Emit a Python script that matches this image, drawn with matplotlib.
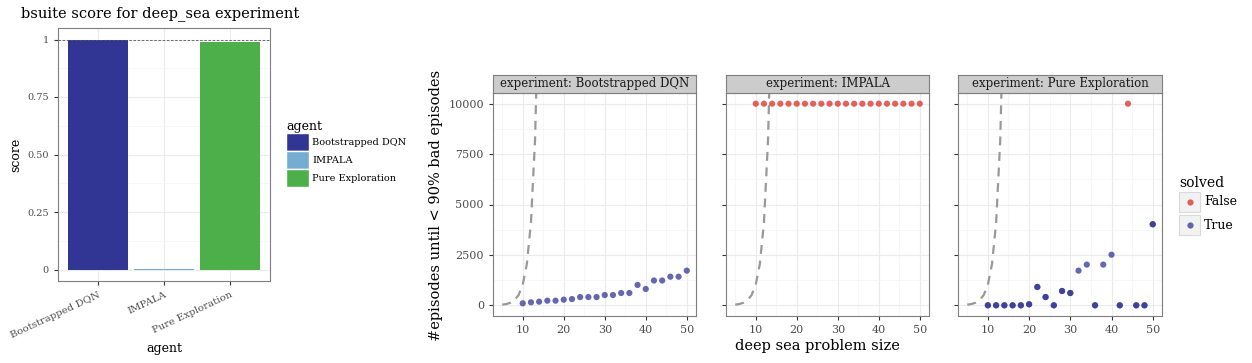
import numpy as np
import matplotlib.pyplot as plt
from matplotlib.patches import Patch, Rectangle
from matplotlib.lines import Line2D
from matplotlib.ticker import MultipleLocator

plt.rcParams["font.family"] = "DejaVu Serif"

# bar chart data
agents = ["Bootstrapped DQN", "IMPALA", "Pure Exploration"]
scores = [1.0, 0.003, 0.988]
agent_colors = ["#313695", "#74add1", "#4daf4a"]

# episodes until solved, per problem size
sizes = list(range(10, 51, 2))
dqn_episodes = [100, 150, 180, 230, 230, 280, 310, 410, 410, 410, 510,
                510, 610, 610, 1010, 810, 1230, 1230, 1420, 1420, 1720]
dqn_solved = [True] * 21
impala_episodes = [10000] * 21
impala_solved = [False] * 21
pe_episodes = [0, 0, 0, 0, 0, 50, 910, 410, 0, 710, 610,
               1720, 2020, 0, 2020, 2510, 0, 10000, 0, 0, 4020]
pe_solved = [True] * 17 + [False] + [True] * 3
# points that appear twice (overplotted, look darker)
pe_repeats = [2, 2, 2, 2, 2, 2, 2, 2, 2, 2, 2,
              1, 1, 2, 1, 1, 2, 1, 2, 2, 2]

# random-exploration reference curve
ref_sizes = [5, 6, 7, 8, 9, 10, 11, 12, 13, 14]
ref_episodes = [32, 64, 128, 256, 512, 1024, 2048, 4096, 8192, 16384]

solved_labels = ["False", "True"]

W, H = 1252, 363
fig = plt.figure(figsize=(W / 100, H / 100), dpi=100)


def px(x0, y0, x1, y1):
    return [x0 / W, 1 - y1 / H, (x1 - x0) / W, (y1 - y0) / H]


def style_axes(ax):
    ax.set_facecolor("white")
    for s in ax.spines.values():
        s.set_color("#7f7f7f")
        s.set_linewidth(0.8)
    ax.grid(True, which="major", color="#ebebeb", linewidth=0.8)
    ax.grid(True, which="minor", color="#f4f4f4", linewidth=0.5)
    ax.set_axisbelow(True)
    ax.tick_params(which="major", length=3, color="#333333", colors="#4d4d4d")
    ax.tick_params(which="minor", length=0)


# ---- left: bar chart
ax = fig.add_axes(px(58, 28, 270, 281))
style_axes(ax)
xpos = np.arange(1, 4)
ax.bar(xpos, scores, width=0.9, color=agent_colors, zorder=2)
ax.axhline(1.0, color="#555555", linestyle=(0, (3, 2)), linewidth=0.6, zorder=3)
ax.set_xlim(0.4, 3.6)
ax.set_ylim(-0.05, 1.05)
ax.set_yticks([0, 0.25, 0.5, 0.75, 1])
ax.set_yticklabels(["0", "0.25", "0.50", "0.75", "1"], fontsize=7)
ax.yaxis.set_minor_locator(MultipleLocator(0.125))
ax.set_xticks(xpos)
ax.set_xticklabels(agents, rotation=25, ha="right", fontsize=7.3,
                   rotation_mode="anchor")
ax.grid(False, axis="x", which="minor")
ax.set_xlabel("agent", fontsize=9, labelpad=2)
ax.set_ylabel("score", fontsize=9)
ax.set_title("bsuite score for deep_sea experiment", fontsize=10.5,
             loc="left", x=-0.175, pad=8)

handles = [Patch(facecolor=c, edgecolor="white", linewidth=1)
           for c in agent_colors]
leg = fig.legend(handles, agents, title="agent", loc="upper left",
                 bbox_to_anchor=(282 / W, 1 - 116 / H), frameon=False,
                 fontsize=7, title_fontsize=9, handlelength=2.4,
                 handleheight=2.4, handletextpad=0.3, labelspacing=0.05,
                 borderaxespad=0)
leg._legend_box.align = "left"

# ---- right: facets
panels = [
    ("Bootstrapped DQN", dqn_episodes, dqn_solved, [1] * 21, 493, 696),
    ("IMPALA", impala_episodes, impala_solved, [1] * 21, 726, 929),
    ("Pure Exploration", pe_episodes, pe_solved, pe_repeats, 958, 1162),
]
red, blue = "#d73027", "#313695"
for i, (name, eps, solved, reps, x0, x1) in enumerate(panels):
    ax = fig.add_axes(px(x0, 93, x1, 316))
    style_axes(ax)
    ax.plot(ref_sizes, ref_episodes, color="#999999", linestyle=(0, (4, 3)),
            linewidth=1.6, zorder=2)
    for x, y, s, r in zip(sizes, eps, solved, reps):
        for _ in range(r):
            ax.scatter(x, y, s=20, color=blue if s else red, alpha=0.75,
                       edgecolors="none", zorder=3)
    ax.set_xlim(2.75, 52.25)
    ax.set_ylim(-530, 10530)
    ax.set_xticks([10, 20, 30, 40, 50])
    ax.xaxis.set_minor_locator(MultipleLocator(5))
    ax.set_yticks([0, 2500, 5000, 7500, 10000])
    ax.yaxis.set_minor_locator(MultipleLocator(1250))
    ax.tick_params(labelsize=8)
    if i > 0:
        ax.set_yticklabels([])
    # strip
    sax = fig.add_axes(px(x0, 75, x1, 93))
    sax.set_facecolor("#cccccc")
    sax.set_xticks([])
    sax.set_yticks([])
    for s in sax.spines.values():
        s.set_color("#7f7f7f")
        s.set_linewidth(0.8)
    sax.text(0.5, 0.5, "experiment: " + name, ha="center", va="center",
             fontsize=8.5, color="#1a1a1a", transform=sax.transAxes)

fig.text(436 / W, 1 - 205 / H, "#episodes until < 90% bad episodes",
         rotation=90, ha="center", va="center", fontsize=10.5)
fig.text(817 / W, 1 - 346 / H, "deep sea problem size", ha="center",
         va="center", fontsize=10.5)

# solved legend with grey key boxes
fig.text(1179 / W, 1 - 183 / H, "solved", ha="left", va="center", fontsize=10)
for k, (lab, c) in enumerate(zip(solved_labels, [red, blue])):
    yc = 202 + k * 23
    fig.add_artist(Rectangle((1179 / W, 1 - (yc + 10) / H), 21 / W, 20 / H,
                             transform=fig.transFigure, facecolor="#f2f2f2",
                             edgecolor="#d9d9d9", linewidth=0.8))
    fig.add_artist(Line2D([1189.5 / W], [1 - yc / H], marker="o",
                          markersize=4.5, markerfacecolor=c, alpha=0.75,
                          markeredgecolor="none", transform=fig.transFigure))
    fig.text(1204 / W, 1 - yc / H, lab, ha="left", va="center", fontsize=9)

fig.savefig("out.png", dpi=100, facecolor="white")
